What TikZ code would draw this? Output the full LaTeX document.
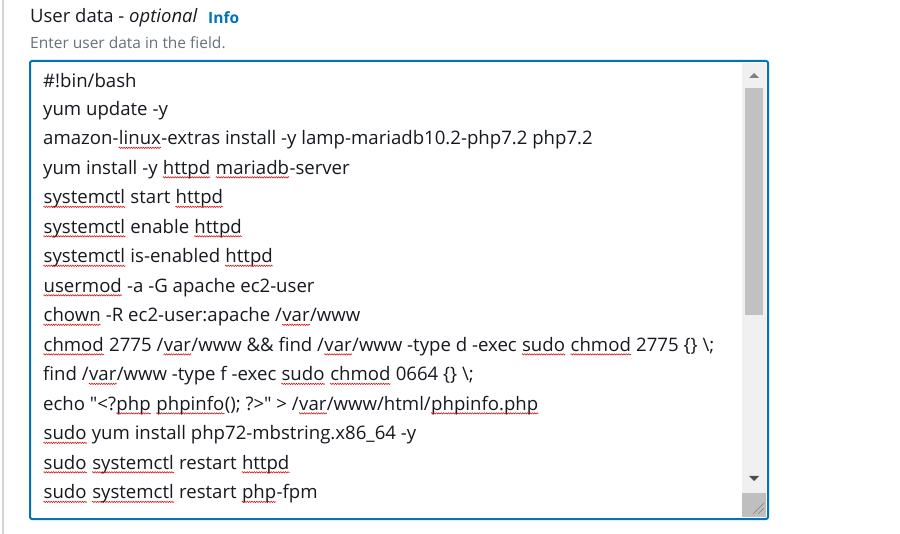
\documentclass[tikz,border=0pt]{standalone}
\usepackage{fontspec}
\usetikzlibrary{decorations.pathmorphing}
\setmainfont{Open Sans}
\newfontfamily\nomap{Open Sans}[Ligatures=ResetAll]
\newcommand\sq{{\nomap\symbol{34}}}
\definecolor{awsblue}{HTML}{0073BB}
\definecolor{ink}{HTML}{16191F}
\definecolor{sub}{HTML}{687078}
\definecolor{track}{HTML}{F0F0F0}
\definecolor{thumb}{HTML}{C1C1C1}
\newcommand\sqw[1]{\tikz[baseline=(w.base)]{\node[inner sep=0pt,anchor=base west](w) at (0,0){#1};\draw[red!85!black,line width=0.5pt,decorate,decoration={zigzag,amplitude=0.7pt,segment length=2.4pt}] ([yshift=-3pt]w.base west) -- ([yshift=-3pt]w.base east);}}
\begin{document}
\begin{tikzpicture}[x=1pt,y=-1pt,
  code/.style={anchor=west,inner sep=0pt,font=\fontsize{18.6}{18}\selectfont,text=ink}]
\useasboundingbox (0,0) rectangle (900,534);
\fill[white] (0,0) rectangle (900,534);
\draw[thumb!70,line width=1.2] (3,0) -- (3,534);
\node[anchor=west,inner sep=0pt,font=\fontsize{18.5}{18}\selectfont,text=ink] (title) at (30,18) {User data - \textit{optional}};
\node[anchor=west,inner sep=0pt,font=\fontsize{15.5}{16}\bfseries\selectfont,text=awsblue] (info) at (208,18) {Info};
\node[anchor=west,inner sep=0pt,font=\fontsize{15.5}{16}\selectfont,text=sub] (hint) at (30,43) {Enter user data in the field.};
% scrollbar
\fill[track] (742,63) rectangle (766,517);
\fill[thumb] (745,88) rectangle (763,315);
\fill[gray!50] (742,493) rectangle (766,517);
\fill[gray] (754,73) -- (759,78) -- (749,78) -- cycle;
\fill[gray!60!black] (749,476) -- (759,476) -- (754,481) -- cycle;
\draw[gray] (753,514) -- (764,503) (758,514) -- (764,508);
\draw[awsblue,line width=2,rounded corners=2] (30,61) rectangle (768,519);
\foreach \t [count=\i from 0] in {%
{\#!bin/bash},
{yum update -y},
{amazon-\sqw{linux}-extras install -y lamp-mariadb10.2-php7.2 php7.2},
{yum install -y \sqw{httpd} \sqw{mariadb}-server},
{\sqw{systemctl} start \sqw{httpd}},
{\sqw{systemctl} enable \sqw{httpd}},
{\sqw{systemctl} is-enabled \sqw{httpd}},
{\sqw{usermod} -a -G apache ec2-user},
{\sqw{chown} -R ec2-user:apache /\sqw{var}/www},
{\sqw{chmod} 2775 /\sqw{var}/www \&\& find /\sqw{var}/www -type d -exec \sqw{sudo} \sqw{chmod} 2775 \{\} \textbackslash;},
{find /\sqw{var}/www -type f -exec \sqw{sudo} \sqw{chmod} 0664 \{\} \textbackslash;},
{echo \sq<?\sqw{php} \sqw{phpinfo}(); ?>\sq{} > /\sqw{var}/www/html/\sqw{phpinfo.php}},
{\sqw{sudo} yum install php72-mbstring.x86\_64 -y},
{\sqw{sudo} \sqw{systemctl} restart \sqw{httpd}},
{\sqw{sudo} \sqw{systemctl} restart \sqw{php}-fpm}}
  \node[code] (l\i) at (43,{81+29.5*\i}) {\t};
\end{tikzpicture}
\end{document}
